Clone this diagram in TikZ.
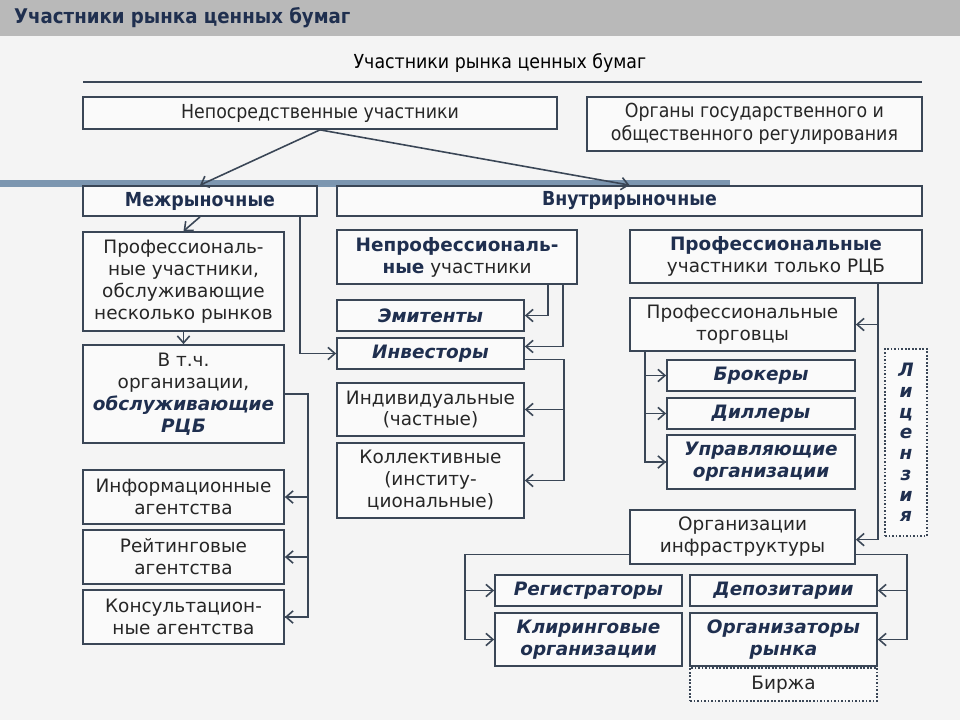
\documentclass[tikz,border=0pt]{standalone}
\usepackage{fontspec}
\setmainfont{DejaVu Sans}
\newfontfamily\narrowfont{DejaVu Sans Condensed}
\usetikzlibrary{positioning,arrows.meta}
\definecolor{inkblue}{HTML}{1F2F4F}
\definecolor{frame}{HTML}{3A4656}
\definecolor{band}{HTML}{5F7F9F}
\tikzset{
  box/.style={draw=frame, line width=1pt, fill=white!96!gray, align=center, inner sep=0pt,
    font=\fontsize{10.5}{12.5}\selectfont, text=black!85},
  boxbi/.style={box, font=\fontsize{10.5}{12.5}\selectfont\bfseries\itshape, text=inkblue},
  dotbox/.style={box, draw=frame, densely dotted},
  sz/.style 2 args={minimum width=#1*0.02cm, minimum height=#2*0.02cm},
  link/.style={draw=frame, line width=0.9pt, -{Straight Barb[length=4pt,width=7pt]}},
  bus/.style={draw=frame, line width=0.9pt}
}
\begin{document}
\begin{tikzpicture}[x=0.02cm, y=-0.02cm]
    \useasboundingbox (0,0) rectangle (960,720);
    % Background and header
    \fill[gray!9] (0,0) rectangle (960,720);
    \fill[gray!55] (0,0) rectangle (960,36);
    \node[anchor=west, font=\narrowfont\bfseries\fontsize{11.5}{13}\selectfont, text=inkblue] (head) at (8,18) {Участники рынка ценных бумаг};
    \fill[band, opacity=0.8] (0,180) rectangle (730,187);

    % Title
    \node[font=\narrowfont\fontsize{11}{13}\selectfont] (title) at (500,63) {Участники рынка ценных бумаг};
    \draw[frame, line width=0.8pt] (83,82) -- (922,82);

    % Top level
    \node[box, sz={474}{32}, font=\narrowfont\fontsize{11}{13}\selectfont] (direct) at (320,113) {Непосредственные участники};
    \node[box, sz={335}{54}, font=\narrowfont\fontsize{11}{13}\selectfont] (reg) at (754.5,124) {Органы государственного и\\общественного регулирования};
    \node[box, sz={234}{30}, font=\narrowfont\bfseries\fontsize{11}{13}\selectfont, text=inkblue] (inter) at (200,201) {Межрыночные};
    \node[box, sz={585}{30}, font=\narrowfont\bfseries\fontsize{11}{13}\selectfont, text=inkblue] (intra) at (629.5,201) {Внутрирыночные};

    % Left column
    \node[box, sz={201}{99}] (profmulti) at (183.5,281.5) {Профессиональ-\\ные участники,\\обслуживающие\\несколько рынков};
    \node[box, sz={201}{98}] (incl) at (183.5,394) {В т.ч.\\организации,\\\textbf{\textit{\color{inkblue}обслуживающие}}\\\textbf{\textit{\color{inkblue}РЦБ}}};
    \node[box, sz={201}{54}] (info) at (183.5,497) {Информационные\\агентства};
    \node[box, sz={201}{54}] (rating) at (183.5,557) {Рейтинговые\\агентства};
    \node[box, sz={201}{54}] (consult) at (183.5,617) {Консультацион-\\ные агентства};

    % Middle column
    \node[box, sz={240}{54}] (nonprof) at (457,257) {\textbf{\color{inkblue}Непрофессиональ-}\\\textbf{\color{inkblue}ные} участники};
    \node[boxbi, sz={187}{31}] (issuers) at (430.5,315.5) {Эмитенты};
    \node[boxbi, sz={187}{31}] (investors) at (430.5,353.5) {Инвесторы};
    \node[box, sz={187}{53}] (individ) at (430.5,409.5) {Индивидуальные\\(частные)};
    \node[box, sz={187}{75}] (collect) at (430.5,480.5) {Коллективные\\(институ-\\циональные)};

    % Right column
    \node[box, sz={292}{53}] (profrcb) at (776,256.5) {\textbf{\color{inkblue}Профессиональные}\\участники только РЦБ};
    \node[box, sz={225}{53}] (traders) at (742.5,324.5) {Профессиональные\\торговцы};
    \node[boxbi, sz={188}{31}] (brokers) at (761,375.5) {Брокеры};
    \node[boxbi, sz={188}{31}] (dealers) at (761,413.5) {Диллеры};
    \node[boxbi, sz={188}{54}] (managers) at (761,462) {Управляющие\\организации};
    \node[dotbox, sz={42}{187}, font=\fontsize{10.5}{11.8}\selectfont\bfseries\itshape, text=inkblue] (licence) at (906,442.5) {Л\\и\\ц\\е\\н\\з\\и\\я};
    \node[box, sz={225}{54}] (infra) at (742.5,537) {Организации\\инфраструктуры};
    \node[boxbi, sz={187}{31}] (registrars) at (588.5,590.5) {Регистраторы};
    \node[boxbi, sz={187}{53}] (clearing) at (588.5,639.5) {Клиринговые\\организации};
    \node[boxbi, sz={187}{31}] (depos) at (783.5,590.5) {Депозитарии};
    \node[boxbi, sz={187}{53}] (organizers) at (783.5,639.5) {Организаторы\\рынка};
    \node[dotbox, sz={187}{33}, below=0pt of organizers] (exchange) {Биржа};

    % Bus positions
    \coordinate (xInter) at (300,0);
    \coordinate (xEmit) at (548,0);
    \coordinate (xInv) at (563,0);
    \coordinate (xLic) at (878,0);
    \coordinate (xTrade) at (645,0);
    \coordinate (xInfL) at (465,0);
    \coordinate (xInfR) at (907,0);

    % Connectors from the top
    \draw[link] (direct.south) -- (inter.north);
    \draw[link] (direct.south) -- (intra.north);
    \draw[link] (inter.south) -- (profmulti.north);
    \draw[link] (inter.south -| xInter) |- (investors.west);

    % Service organisations
    \draw[bus] (incl.east) -- ++(23,0) coordinate (busL) |- (consult.east);
    \draw[link] (busL |- consult.east) -- (consult.east);
    \draw[link] (busL |- info.east) -- (info.east);
    \draw[link] (busL |- rating.east) -- (rating.east);
    \draw[link] (profmulti.south) -- (incl.north);

    % Non-professional participants
    \draw[link] (nonprof.south -| xEmit) |- (issuers.east);
    \draw[link] (nonprof.south -| xInv) |- ([yshift=4pt]investors.east);
    \draw[bus] ([yshift=-3.5pt]investors.east) -- ++(39,0) coordinate (busM) |- (collect.east);
    \draw[link] (busM |- collect.east) -- (collect.east);
    \draw[link] (busM |- individ.east) -- (individ.east);

    % Professional participants
    \draw[link] (profrcb.south -| xLic) |- ([yshift=-1.5pt]infra.east);
    \draw[link] (traders.east -| xLic) -- (traders.east);
    \draw[bus] (traders.south -| xTrade) |- (managers.west);
    \draw[link] (xTrade |- managers.west) -- (managers.west);
    \draw[link] (xTrade |- brokers.west) -- (brokers.west);
    \draw[link] (xTrade |- dealers.west) -- (dealers.west);

    % Infrastructure
    \draw[bus] ([yshift=-10pt]infra.west) -| (xInfL |- clearing.west);
    \draw[link] (xInfL |- clearing.west) -- (clearing.west);
    \draw[link] (xInfL |- registrars.west) -- (registrars.west);
    \draw[bus] ([yshift=-10pt]infra.east) -| (xInfR |- organizers.east);
    \draw[link] (xInfR |- organizers.east) -- (organizers.east);
    \draw[link] (xInfR |- depos.east) -- (depos.east);
\end{tikzpicture}
\end{document}
